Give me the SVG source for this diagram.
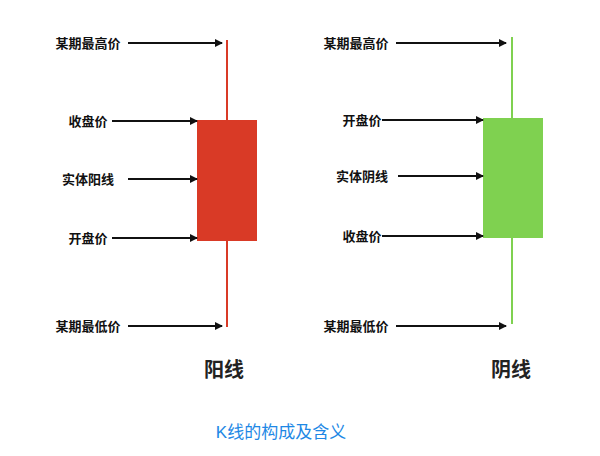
<svg xmlns="http://www.w3.org/2000/svg" width="600" height="456" viewBox="0 0 600 456">
<style>
.l{font-family:"Liberation Sans","Noto Sans CJK SC",sans-serif;font-size:13px;font-weight:bold;fill:#111;text-anchor:middle}
.t{font-family:"Liberation Sans","Noto Sans CJK SC",sans-serif;font-size:20px;font-weight:bold;fill:#222;text-anchor:middle}
.a{stroke:#111;stroke-width:2;fill:none;marker-end:url(#ah)}
</style>
<defs><marker id="ah" markerWidth="8" markerHeight="8" refX="7" refY="4" orient="auto" markerUnits="userSpaceOnUse"><path d="M0,0 L8,4 L0,8 z" fill="#111"/></marker></defs>
<rect width="600" height="456" fill="#fff"/>
<g id="yang">
<line x1="227" y1="40" x2="227" y2="327" stroke="#D93A26" stroke-width="2"/>
<rect x="197" y="120" width="60" height="121" fill="#D93A26"/>
<text class="t" x="224" y="377">阳线</text>
</g>
<g id="yin">
<line x1="512" y1="37" x2="512" y2="324" stroke="#7FD150" stroke-width="2"/>
<rect x="483" y="118" width="60" height="120" fill="#7FD150"/>
<text class="t" x="511" y="377">阴线</text>
</g>
<g id="labels">
<text class="l" x="88" y="48">某期最高价</text>
<text class="l" x="88" y="126">收盘价</text>
<text class="l" x="88" y="184">实体阳线</text>
<text class="l" x="88" y="243">开盘价</text>
<text class="l" x="88" y="331">某期最低价</text>
<text class="l" x="356" y="48">某期最高价</text>
<text class="l" x="362" y="125">开盘价</text>
<text class="l" x="362" y="181">实体阴线</text>
<text class="l" x="362" y="241">收盘价</text>
<text class="l" x="356" y="331">某期最低价</text>
</g>
<g id="connectors">
<line class="a" x1="128" y1="43" x2="222" y2="43"/>
<line class="a" x1="112" y1="121" x2="197" y2="121"/>
<line class="a" x1="128" y1="179" x2="197" y2="179"/>
<line class="a" x1="112" y1="238" x2="197" y2="238"/>
<line class="a" x1="128" y1="326" x2="222" y2="326"/>
<line class="a" x1="396" y1="43" x2="506" y2="43"/>
<line class="a" x1="382" y1="120" x2="483" y2="120"/>
<line class="a" x1="398" y1="176" x2="483" y2="176"/>
<line class="a" x1="382" y1="236" x2="483" y2="236"/>
<line class="a" x1="396" y1="326" x2="506" y2="326"/>
</g>
<text x="281" y="438" font-family="Liberation Sans,Noto Sans CJK SC,sans-serif" font-size="17" fill="#1E88E5" text-anchor="middle">K线的构成及含义</text>
</svg>
